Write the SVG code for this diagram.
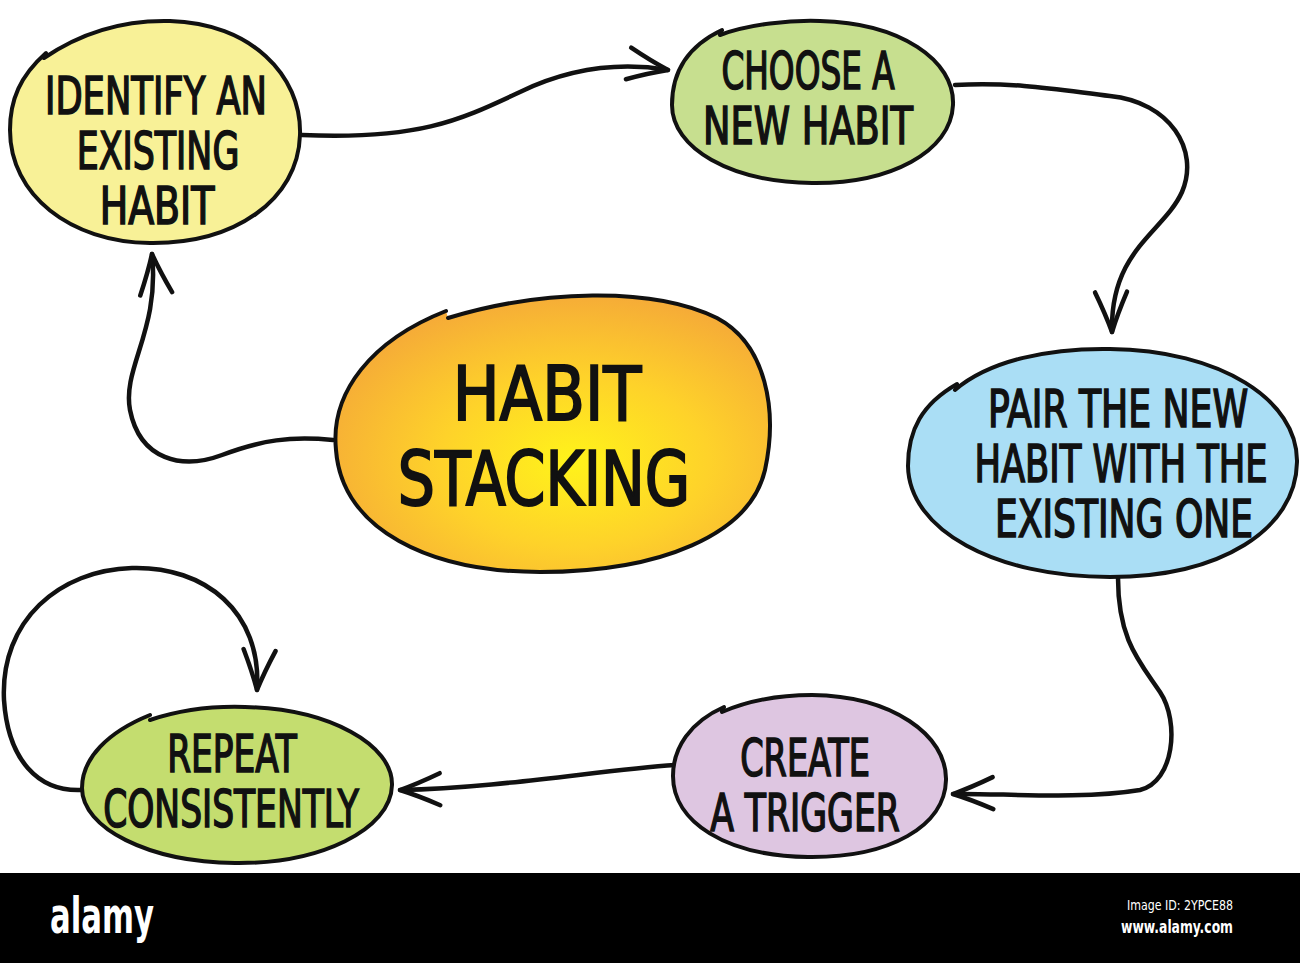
<svg xmlns="http://www.w3.org/2000/svg" width="1300" height="963" viewBox="0 0 1300 963">
  <defs>
    <radialGradient id="gradCore" cx="0.55" cy="0.6" r="0.62">
      <stop offset="0" stop-color="#fff31a"/>
      <stop offset="0.5" stop-color="#fed22a"/>
      <stop offset="1" stop-color="#f5aa38"/>
    </radialGradient>
    <marker id="chev" viewBox="-44 -20 48 40" markerWidth="48" markerHeight="40" refX="0" refY="0" orient="auto" markerUnits="userSpaceOnUse">
      <path d="M -40,-16 Q -18,-6 0,0 Q -18,6 -40,16" fill="none" stroke="#111" stroke-width="4.5" stroke-linecap="round" stroke-linejoin="round"/>
    </marker>
    <style>
      .blob { stroke: #111; stroke-width: 4; stroke-linejoin: round; stroke-linecap: round; }
      .lbl { font-family: "DejaVu Sans Condensed", "Liberation Sans Narrow", "Liberation Sans", sans-serif; font-weight: 400; fill: #111; stroke: #111; stroke-width: 1.6; text-anchor: middle; }
      .s { font-size: 51px; }
      .b { font-size: 75px; stroke-width: 2; }
      .conn { fill: none; stroke: #111; stroke-width: 4.5; stroke-linecap: round; stroke-linejoin: round; marker-end: url(#chev); }
      .wm { font-family: "DejaVu Sans Condensed", "Liberation Sans", sans-serif; fill: #fff; }
    </style>
  </defs>
  <rect x="0" y="0" width="1300" height="963" fill="#ffffff"/>

  <g id="connectors">
    <path class="conn" d="M 302,135 C 420,140 460,120 520,92 C 570,68 620,62 668,70"/>
    <path class="conn" d="M 955,85 C 1020,82 1060,90 1110,96 C 1170,102 1200,150 1182,192 C 1164,232 1110,250 1112,332"/>
    <path class="conn" d="M 1118,578 C 1118,640 1140,662 1160,692 C 1180,722 1174,782 1140,790 C 1080,800 1000,793 953,794"/>
    <path class="conn" d="M 675,765 C 600,770 500,788 400,790"/>
    <path class="conn" d="M 82,790 C 38,792 8,760 4,700 C 0,620 60,570 132,568 C 205,566 262,612 257,690"/>
    <path class="conn" d="M 333,440 C 290,436 262,440 222,455 C 182,470 140,460 130,410 C 122,368 160,330 152,254"/>
  </g>

  <g id="node-identify">
    <path class="blob" fill="#f8f197" d="M 44,58 C 85,30 130,20 170,21 C 250,23 302,75 300,135 C 298,200 235,244 150,243 C 70,242 10,195 10,130 C 10,100 20,76 46,53"/>
    <text class="lbl s" transform="translate(156,114) scale(0.75,1)" textLength="296" lengthAdjust="spacingAndGlyphs">IDENTIFY AN</text>
    <text class="lbl s" transform="translate(158,169) scale(0.75,1)" textLength="217" lengthAdjust="spacingAndGlyphs">EXISTING</text>
    <text class="lbl s" transform="translate(157,224) scale(0.75,1)" textLength="153" lengthAdjust="spacingAndGlyphs">HABIT</text>
  </g>

  <g id="node-choose">
    <path class="blob" fill="#c7df8f" d="M 720,35 C 750,24 790,20 820,21 C 900,23 955,60 953,105 C 951,152 890,184 812,183 C 730,182 672,148 672,105 C 672,72 688,46 722,30"/>
    <text class="lbl s" transform="translate(808,89) scale(0.75,1)" textLength="231" lengthAdjust="spacingAndGlyphs">CHOOSE A</text>
    <text class="lbl s" transform="translate(808,144) scale(0.75,1)" textLength="280" lengthAdjust="spacingAndGlyphs">NEW HABIT</text>
  </g>

  <g id="node-core">
    <path class="blob" fill="url(#gradCore)" d="M 448,318 C 540,290 652,286 717,318 C 766,344 778,410 765,470 C 750,535 660,572 540,572 C 430,572 342,530 336,450 C 330,392 372,340 446,311"/>
    <text class="lbl b" transform="translate(547,420) scale(0.85,1)" textLength="222" lengthAdjust="spacingAndGlyphs">HABIT</text>
    <text class="lbl b" transform="translate(544,505) scale(0.85,1)" textLength="344" lengthAdjust="spacingAndGlyphs">STACKING</text>
  </g>

  <g id="node-pair">
    <path class="blob" fill="#aadef5" d="M 955,390 C 990,360 1050,348 1110,349 C 1220,350 1298,400 1297,462 C 1296,530 1220,577 1110,577 C 995,577 909,530 908,466 C 908,430 922,404 957,384"/>
    <text class="lbl s" transform="translate(1118,427) scale(0.75,1)" textLength="347" lengthAdjust="spacingAndGlyphs">PAIR THE NEW</text>
    <text class="lbl s" transform="translate(1121,482) scale(0.75,1)" textLength="391" lengthAdjust="spacingAndGlyphs">HABIT WITH THE</text>
    <text class="lbl s" transform="translate(1124,537) scale(0.75,1)" textLength="344" lengthAdjust="spacingAndGlyphs">EXISTING ONE</text>
  </g>

  <g id="node-create">
    <path class="blob" fill="#dec6e1" d="M 722,712 C 750,700 780,695 812,695 C 892,696 947,735 946,780 C 945,826 890,858 808,857 C 726,856 673,822 673,776 C 673,748 690,722 724,707"/>
    <text class="lbl s" transform="translate(805,776) scale(0.75,1)" textLength="173" lengthAdjust="spacingAndGlyphs">CREATE</text>
    <text class="lbl s" transform="translate(805,831) scale(0.75,1)" textLength="253" lengthAdjust="spacingAndGlyphs">A TRIGGER</text>
  </g>

  <g id="node-repeat">
    <path class="blob" fill="#c4dd6f" d="M 150,720 C 180,710 215,706 245,707 C 330,709 393,745 392,785 C 391,830 320,864 235,863 C 148,862 82,828 82,788 C 82,758 108,732 150,715"/>
    <text class="lbl s" transform="translate(232,772) scale(0.75,1)" textLength="173" lengthAdjust="spacingAndGlyphs">REPEAT</text>
    <text class="lbl s" transform="translate(231,827) scale(0.75,1)" textLength="341" lengthAdjust="spacingAndGlyphs">CONSISTENTLY</text>
  </g>

  <g id="footer">
    <rect x="0" y="873" width="1300" height="90" fill="#000"/>
    <text class="wm" x="50" y="933" font-size="50" font-weight="700" textLength="104" lengthAdjust="spacingAndGlyphs">alamy</text>
    <text class="wm" x="1127" y="910" font-size="14" textLength="106" lengthAdjust="spacingAndGlyphs">Image ID: 2YPCE88</text>
    <text class="wm" x="1121" y="933" font-size="17" font-weight="700" textLength="112" lengthAdjust="spacingAndGlyphs">www.alamy.com</text>
  </g>
</svg>
